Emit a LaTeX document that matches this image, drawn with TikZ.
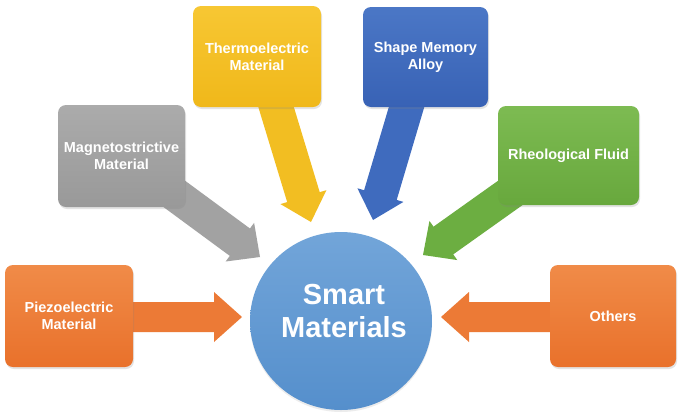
\documentclass[tikz,border=0pt]{standalone}
\usepackage{fontspec}
\setmainfont{Liberation Sans}
\usetikzlibrary{calc,shapes.geometric,shadows}
\definecolor{orT}{HTML}{F08B48}
\definecolor{orB}{HTML}{E9712B}
\definecolor{orA}{HTML}{EC7A36}
\definecolor{grT}{HTML}{ABABAB}
\definecolor{grB}{HTML}{999999}
\definecolor{grA}{HTML}{A2A2A2}
\definecolor{yeT}{HTML}{F7C733}
\definecolor{yeB}{HTML}{F0B81A}
\definecolor{yeA}{HTML}{F2BE22}
\definecolor{blT}{HTML}{4B77C6}
\definecolor{blB}{HTML}{3862B5}
\definecolor{blA}{HTML}{3F6BBE}
\definecolor{gnT}{HTML}{7DBB52}
\definecolor{gnB}{HTML}{68A83D}
\definecolor{gnA}{HTML}{6CAE41}
\definecolor{ciT}{HTML}{72A5D9}
\definecolor{ciB}{HTML}{558FCC}
\newcommand{\fatarrow}[6]{%
  \coordinate (hb) at ($(#3)!#6!(#2)$);
  \fill[#1] ($(#2)!#4!90:(#3)$) -- ($(hb)!#4!90:(#3)$) -- ($(hb)!#5!90:(#3)$)
    -- (#3) -- ($(hb)!#5!-90:(#3)$) -- ($(hb)!#4!-90:(#3)$)
    -- ($(#2)!#4!-90:(#3)$) -- cycle;}
\tikzset{
  box/.style={rounded corners=8pt, text=white, align=center, inner sep=0pt,
    font=\bfseries\fontsize{14.5}{17}\selectfont,
    drop shadow={opacity=0.22, shadow xshift=1pt, shadow yshift=-2pt}},
}
\begin{document}
\begin{tikzpicture}[x=1pt,y=-1pt]
\useasboundingbox (0,0) rectangle (685,413);
\fill[white] (0,0) rectangle (685,413);
% arrow end points
\coordinate (sp) at (120,317); \coordinate (tp) at (242,317);
\coordinate (so) at (560,317); \coordinate (to) at (441,317);
\coordinate (sm) at (150,176); \coordinate (tm) at (260,257);
\coordinate (st) at (270,87);  \coordinate (tt) at (311,222);
\coordinate (ss) at (412.5,87); \coordinate (ts) at (373,220);
\coordinate (sr) at (520,186); \coordinate (tr) at (423,255);
% arrows
\fatarrow{orA}{sp}{tp}{15pt}{25pt}{28pt}
\fatarrow{orA}{so}{to}{15pt}{25pt}{28pt}
\fatarrow{grA}{sm}{tm}{17pt}{24pt}{25pt}
\fatarrow{yeA}{st}{tt}{17pt}{24pt}{26pt}
\fatarrow{blA}{ss}{ts}{17pt}{24pt}{26pt}
\fatarrow{gnA}{sr}{tr}{17pt}{24pt}{25pt}
% boxes
\node[box, top color=orT, bottom color=orB, minimum width=128pt, minimum height=102pt]
  (piezo) at (69,316) {Piezoelectric\\Material};
\node[box, top color=orT, bottom color=orB, minimum width=126pt, minimum height=102pt]
  (others) at (613,316) {Others};
\node[box, top color=grT, bottom color=grB, minimum width=127pt, minimum height=102pt]
  (magneto) at (121.5,156) {Magnetostrictive\\Material};
\node[box, top color=yeT, bottom color=yeB, minimum width=128pt, minimum height=101pt]
  (thermo) at (257,56.5) {Thermoelectric\\Material};
\node[box, top color=blT, bottom color=blB, minimum width=125pt, minimum height=100pt]
  (shape) at (425.5,57) {Shape Memory\\Alloy};
\node[box, top color=gnT, bottom color=gnB, minimum width=141pt, minimum height=99pt]
  (rheo) at (568.5,155.5) {Rheological Fluid};
% circle
\node[ellipse, top color=ciT, bottom color=ciB, minimum width=182pt, minimum height=178pt,
  inner sep=0pt, drop shadow={opacity=0.15, shadow xshift=0pt, shadow yshift=-2pt}]
  (smart) at (341,321) {};
\node[text=white, align=center, font=\bfseries\fontsize{29}{33}\selectfont]
  (smartlabel) at (344,311) {Smart\\Materials};
\end{tikzpicture}
\end{document}
